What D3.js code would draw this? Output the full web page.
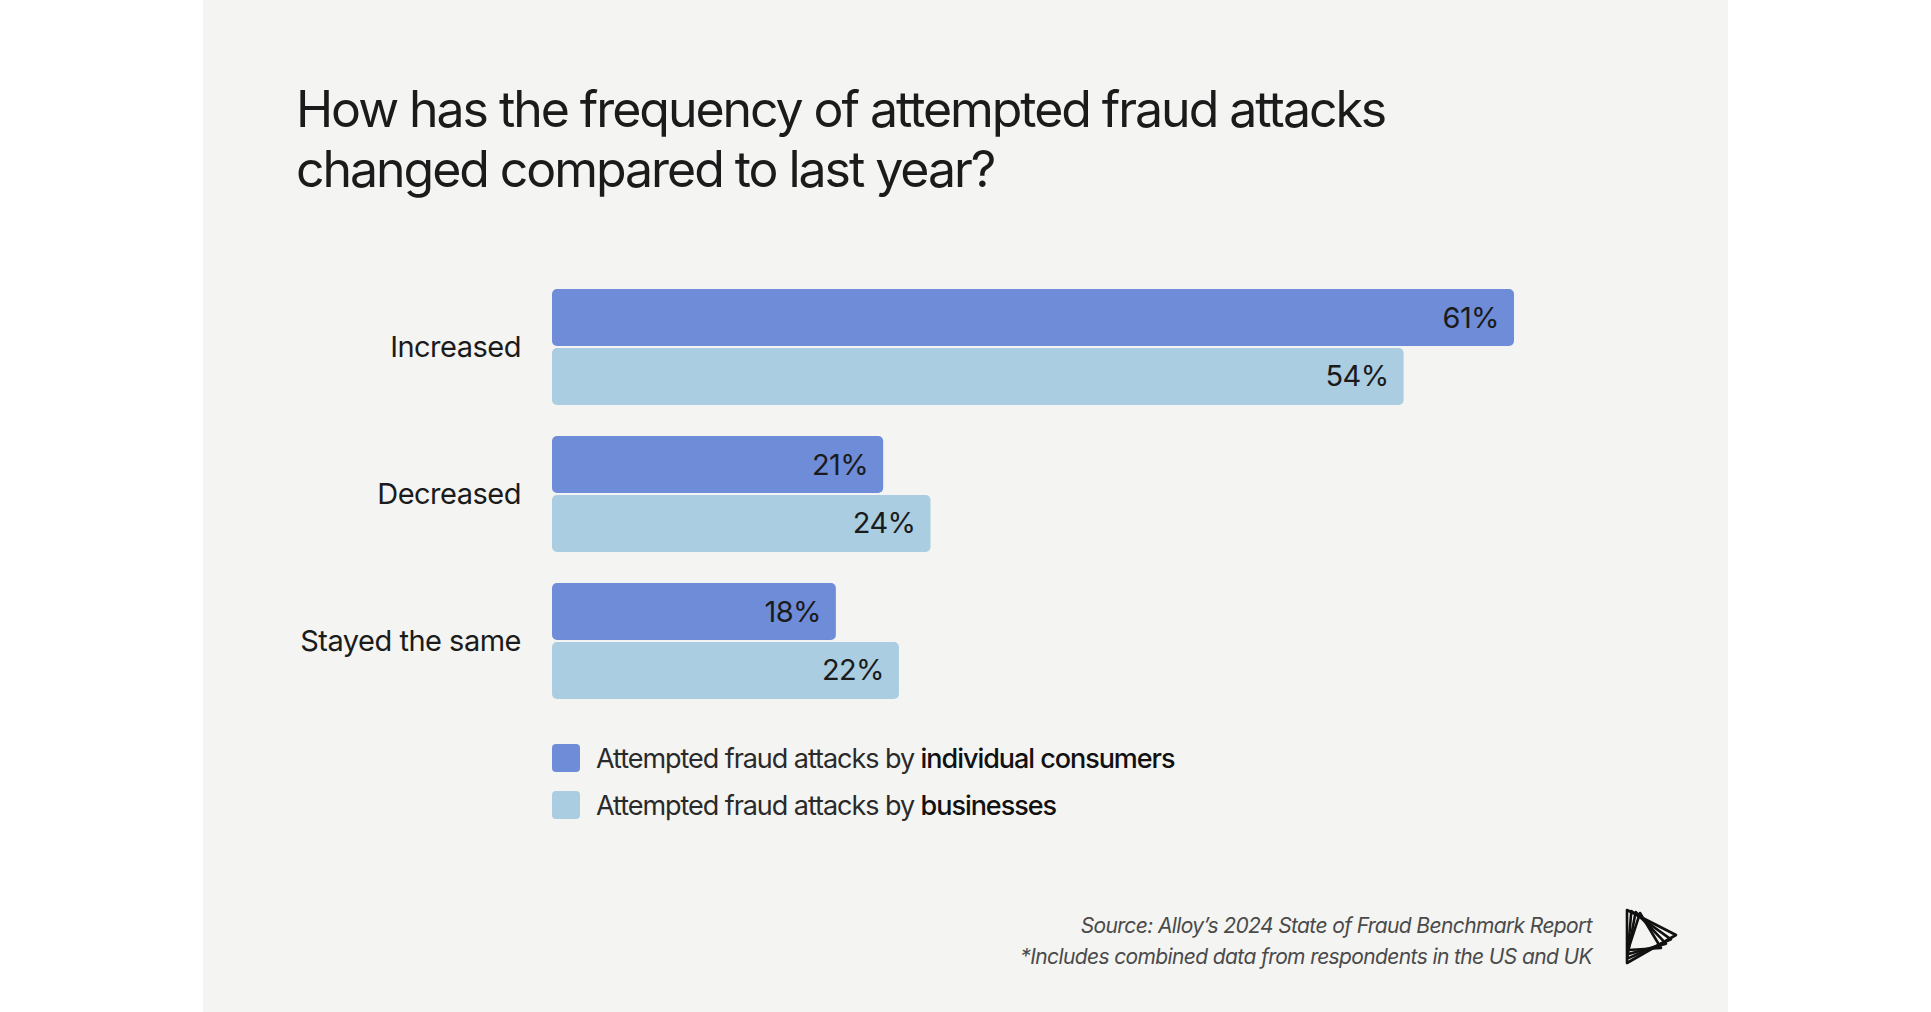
<!DOCTYPE html>
<html><head><meta charset="utf-8">
<script src="https://cdn.jsdelivr.net/npm/d3@7"></script>
<style>
html,body{margin:0;padding:0;background:#fff;}
svg{display:block;font-family:Inter,"Noto Sans",sans-serif;}
</style></head>
<body><svg id="c" width="1931" height="1012"></svg>
<script>
const titleLines = ["How has the frequency of attempted fraud attacks", "changed compared to last year?"];
const categories = ["Increased", "Decreased", "Stayed the same"];
const seriesKeys = ["consumers", "businesses"];
const consumers = [61, 21, 18];
const businesses = [54, 24, 22];
const seriesColors = ["#6e8cd8", "#aacde1"];
const legendPrefix = ["Attempted fraud attacks by ", "Attempted fraud attacks by "];
const legendBold = ["individual consumers", "businesses"];
const footnotes = ["Source: Alloy\u2019s 2024 State of Fraud Benchmark Report", "*Includes combined data from respondents in the US and UK"];

const svg = d3.select("#c");
svg.append("rect").attr("x",203).attr("y",0).attr("width",1525).attr("height",1012).attr("fill","#f4f4f2");

// title
const title = svg.append("text").attr("x",296).attr("fill","#1b1b1b").attr("font-size",50).attr("letter-spacing",-2.05);
titleLines.forEach((t,i)=>title.append("tspan").attr("x",296).attr("y",127+i*60).text(t));

const x = d3.scaleLinear().domain([0, 61]).range([552, 1514]);
const y = d3.scaleBand().domain(categories).range([289, 699]).paddingInner(31/147).paddingOuter(0);
const y1 = d3.scaleBand().domain(seriesKeys).range([0, y.bandwidth()]);

const data = categories.map((c,i)=>({cat:c, vals:[consumers[i], businesses[i]]}));
const g = svg.append("g").selectAll("g").data(data).join("g").attr("transform",d=>`translate(0,${y(d.cat)})`);
g.selectAll("rect").data(d=>d.vals.map((v,j)=>({v,j}))).join("rect")
  .attr("x", x(0)).attr("y", d=>y1(seriesKeys[d.j]) + (d.j===1?1:0))
  .attr("width", d=>x(d.v)-x(0)).attr("height", d=>y1.bandwidth()-1)
  .attr("rx",5).attr("fill", d=>seriesColors[d.j]);
g.selectAll("text.v").data(d=>d.vals.map((v,j)=>({v,j}))).join("text").attr("class","v")
  .attr("x", d=>x(d.v)-15).attr("y", d=>y1(seriesKeys[d.j]) + y1.bandwidth()/2)
  .attr("dy","0.36em").attr("text-anchor","end").attr("font-size",29).attr("fill","#1b1b1b").attr("letter-spacing",-0.6)
  .text(d=>d.v+"%");

// category axis labels
const ax = svg.append("g").attr("transform","translate(521,0)")
  .call(d3.axisLeft(y).tickSize(0).tickPadding(0));
ax.select(".domain").remove();
ax.selectAll("text").attr("font-size",29).attr("fill","#1b1b1b").attr("font-family","Inter,'Noto Sans',sans-serif")
  .attr("letter-spacing",-0.5).attr("dy","0.36em").attr("y", 0);

// legend
const lg = svg.append("g").selectAll("g").data(seriesKeys).join("g")
  .attr("transform",(d,i)=>`translate(552,${744+i*47})`);
lg.append("rect").attr("width",28).attr("height",28).attr("rx",4).attr("fill",(d,i)=>seriesColors[i]);
const lt = lg.append("text").attr("x",44).attr("y",14).attr("dy","0.36em").attr("font-size",27).attr("letter-spacing",-1.05);
lt.append("tspan").attr("fill","#2a2a2a").text((d,i)=>legendPrefix[i]);
lt.append("tspan").attr("fill","#111").attr("font-weight",500).text((d,i)=>legendBold[i]);

// footnotes
svg.append("g").selectAll("text").data(footnotes).join("text")
  .attr("x",1592).attr("y",(d,i)=>925+i*31).attr("dy","0.36em").attr("text-anchor","end")
  .attr("font-size",21).attr("font-style","italic").attr("fill","#4a4a4a").attr("letter-spacing",-0.62).text(d=>d);

// logo: nested rounded triangles
const logo = svg.append("g");
const outerTri = [[1627,910],[1676,935],[1627,963]];
const innerTri = [[1640,913],[1661,948],[1628,950]];
[0,1/3,2/3,1].forEach(t=>{
  const pts = outerTri.map((p,k)=>[p[0]+(innerTri[k][0]-p[0])*t, p[1]+(innerTri[k][1]-p[1])*t]);
  logo.append("path").attr("d", d3.line()(pts)+"Z")
    .attr("fill","none").attr("stroke","#111").attr("stroke-width",2.6).attr("stroke-linejoin","round");
});
</script></body></html>
